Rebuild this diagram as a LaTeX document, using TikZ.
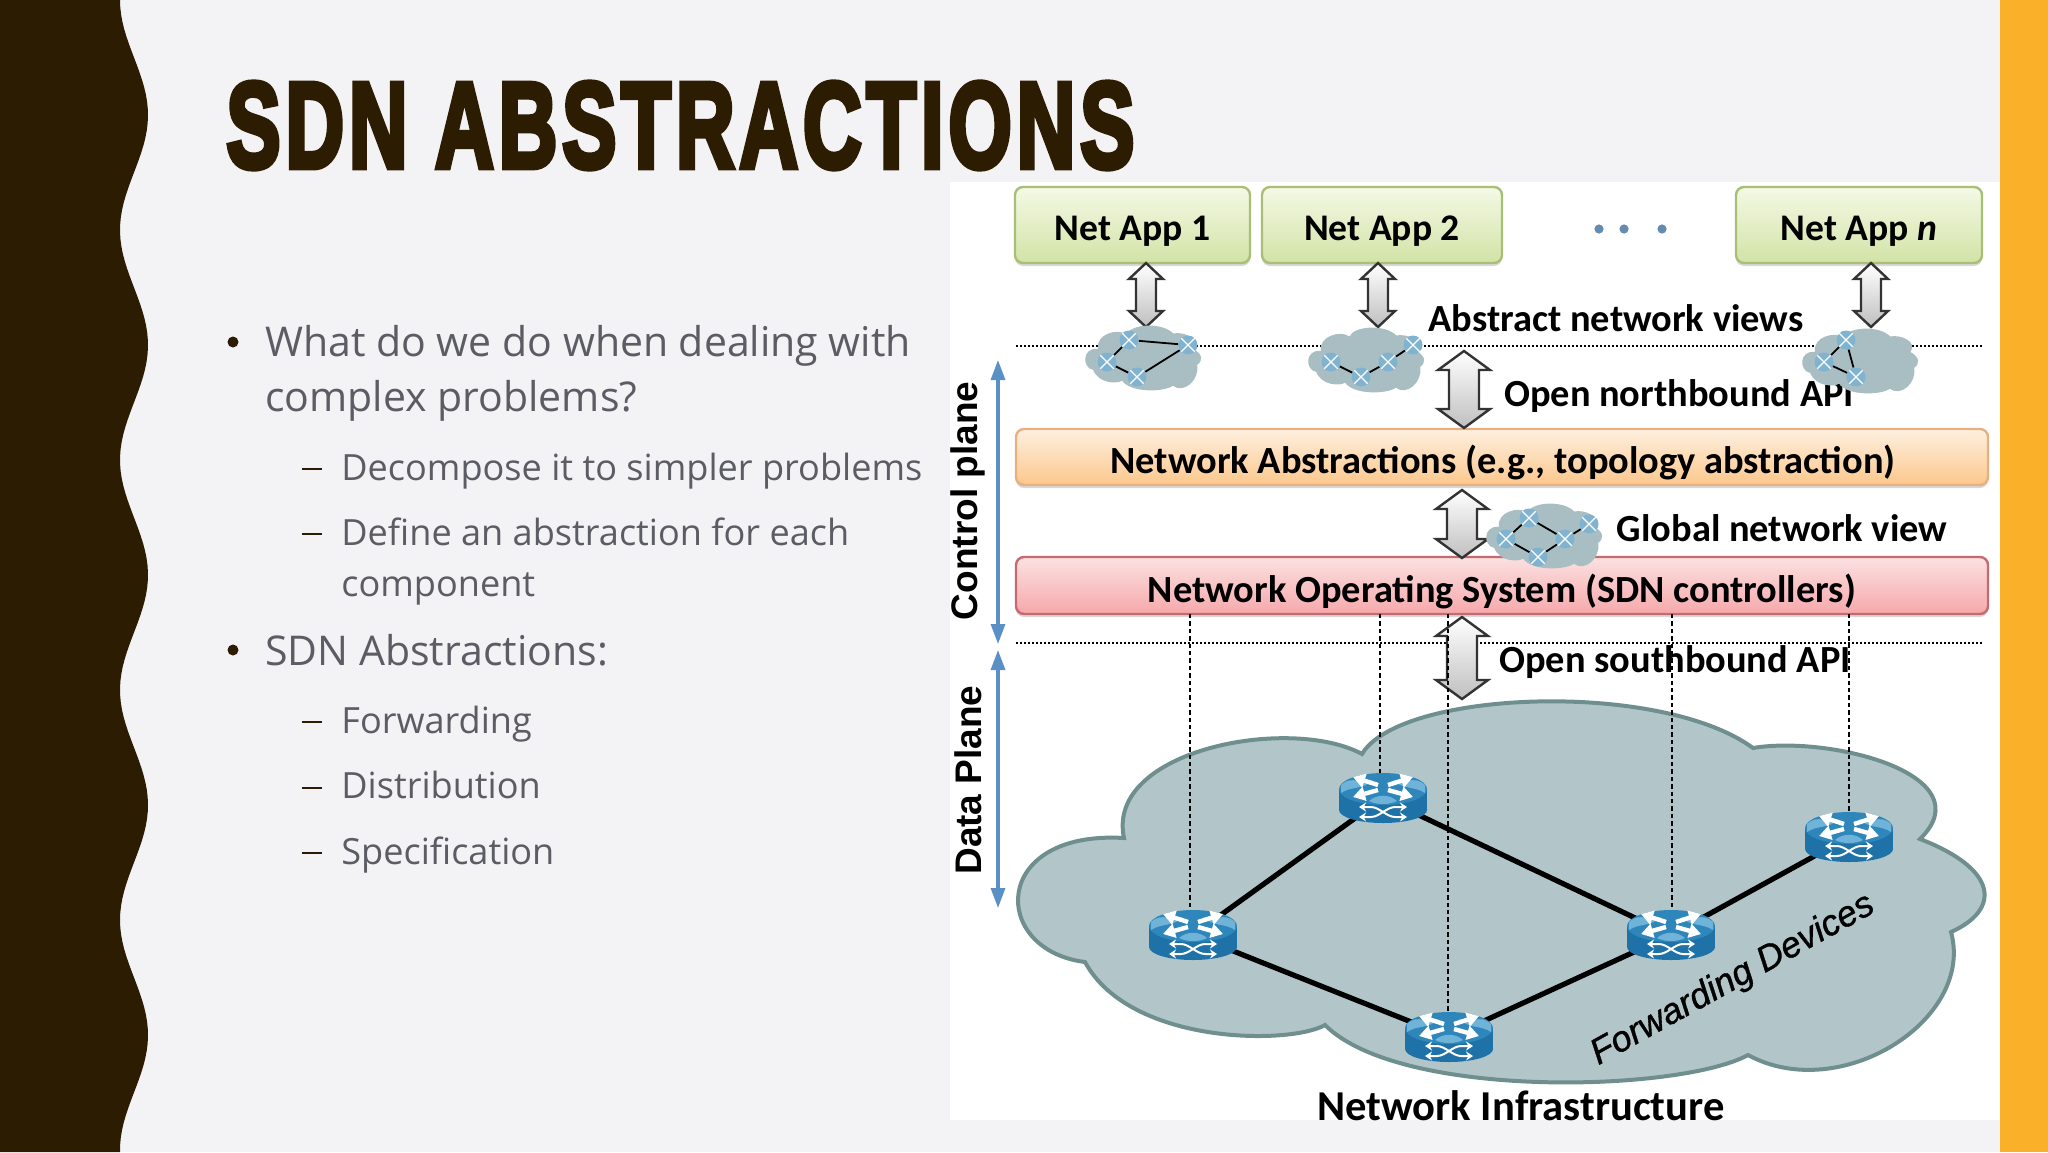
\documentclass[tikz,border=0pt]{standalone}
\usepackage{fontspec}
\usetikzlibrary{shapes.geometric,arrows.meta,shadows}
\setmainfont{Open Sans}
\newfontfamily\diagfont{Carlito}
\newfontfamily\armfont{Liberation Sans}
\newfontfamily\armital[FakeBold=1]{Liberation Sans Italic}
\newfontfamily\titlefont[FakeBold=5,LetterSpace=6]{Liberation Sans Bold}
\definecolor{pagebg}{HTML}{F3F2F5}
\definecolor{darkbrown}{HTML}{2C1C02}
\definecolor{accent}{HTML}{FBB02A}
\definecolor{bodygray}{HTML}{5C5C64}
\definecolor{cloudfill}{HTML}{B2C6C9}
\definecolor{cloudedge}{HTML}{6F8E8E}
\definecolor{smallcloud}{HTML}{A9BEC3}
\definecolor{planeblue}{HTML}{5B90C6}
\definecolor{routerblue}{HTML}{1F72A8}
\definecolor{routertop}{HTML}{2F86BB}
\definecolor{routerwave}{HTML}{6FB4D8}
\definecolor{routerpale}{HTML}{7FB3CF}
\definecolor{appedge}{HTML}{A9BF78}
\definecolor{apptop}{HTML}{F4F9E6}
\definecolor{appbot}{HTML}{D2E3A6}
\definecolor{absedge}{HTML}{E8B080}
\definecolor{abstop}{HTML}{FEF0DF}
\definecolor{absbot}{HTML}{FCC78D}
\definecolor{nosedge}{HTML}{C46A70}
\definecolor{nostop}{HTML}{FBE1E1}
\definecolor{nosbot}{HTML}{F6A8AB}
\tikzset{
  px/.style={x=0.5pt,y=-0.5pt},
  appbox/.style={draw=#1,line width=1.2pt,rounded corners=4pt,inner sep=0pt,outer sep=0pt,
    drop shadow={shadow xshift=0pt,shadow yshift=-1.5pt,opacity=.3}},
  apptext/.style={font=\diagfont\bfseries\fontsize{18.8}{20}\selectfont,text=black,inner sep=0pt},
  diagtext/.style={font=\diagfont\bfseries\fontsize{19.2}{21}\selectfont,text=black,inner sep=0pt},
  body1/.style={anchor=base west,inner sep=0pt,text=bodygray,font=\fontsize{20.5}{24}\selectfont},
  body2/.style={anchor=base west,inner sep=0pt,text=bodygray,font=\fontsize{18.05}{21}\selectfont},
  bulletdot/.style={circle,fill=darkbrown,minimum size=5.5pt,inner sep=0pt},
  subdash/.style={rectangle,fill=darkbrown,minimum width=10pt,minimum height=1pt,inner sep=0pt},
  dotline/.style={black,line width=1pt,dash pattern=on 1pt off 1pt},
  droplink/.style={black,line width=1.1pt,dash pattern=on 2.2pt off 1.5pt},
  biglink/.style={black,line width=2.6pt},
  minilink/.style={black,line width=.9pt},
  planearrow/.style={planeblue,line width=1.6pt,{Triangle[width=7pt,length=10pt]}-{Triangle[width=7pt,length=10pt]}},
  minirouter/.style={circle,fill=routerpale,minimum size=9.5pt,inner sep=0pt,
    path picture={\draw[white,line width=.6pt]
      (path picture bounding box.north west)--(path picture bounding box.south east)
      (path picture bounding box.north east)--(path picture bounding box.south west);}},
  plabel/.style={font=\armfont\bfseries\fontsize{18.5}{20}\selectfont,text=black,inner sep=0pt},
  bigwhite/.style={white,line width=2.2pt},
}
\newcommand{\lowered}[1]{\raisebox{-3.2pt}[\height][\depth]{#1}}
\def\cloudpath{(1362,754) .. controls (1400,690) and (1660,680) .. (1753,748)
  .. controls (1830,735) and (1985,775) .. (1920,839)
  .. controls (2000,870) and (2000,910) .. (1951,932)
  .. controls (1975,1020) and (1840,1105) .. (1748,1055)
  .. controls (1680,1092) and (1400,1100) .. (1325,1025)
  .. controls (1290,1045) and (1130,1045) .. (1085,962)
  .. controls (990,950) and (990,830) .. (1124,838)
  .. controls (1105,750) and (1290,715) .. (1362,754) -- cycle}
% name, centre x, centre y
\newcommand{\smallcloudat}[3]{%
  \coordinate (#1) at (#2,#3);
  \fill[smallcloud,shift={(#2,#3)},xscale=.12,yscale=.17,shift={(-1500,-892)}] \cloudpath;}
% name, x, y top, y bottom, half head, half shaft, head length
\newcommand{\dblarrow}[7]{%
  \coordinate (#1t) at (#2,#3);
  \coordinate (#1b) at (#2,#4);
  \draw[black!80,line width=1.2pt,top color=white,bottom color=black!25]
    (#2,#3) -- (#2+#5,#3+#7) -- (#2+#6,#3+#7) -- (#2+#6,#4-#7) -- (#2+#5,#4-#7)
    -- (#2,#4) -- (#2-#5,#4-#7) -- (#2-#6,#4-#7) -- (#2-#6,#3+#7) -- (#2-#5,#3+#7) -- cycle;}
\newcommand{\routerart}[1]{%
  \begin{scope}[shift={(#1)}]
    \fill[routerblue] (0,12) circle[x radius=44,y radius=13];
    \fill[routerblue] (-44,-9) rectangle (44,12);
    \fill[routertop] (0,-9) circle[x radius=44,y radius=16];
    \fill[routerwave] (-42,-13) .. controls (-30,-24) and (-22,-12) .. (-10,-18) .. controls (-20,-8) and (-32,-12) .. (-42,-5) -- cycle;
    \fill[routerwave] (42,-13) .. controls (30,-24) and (22,-12) .. (10,-18) .. controls (20,-8) and (32,-12) .. (42,-5) -- cycle;
    \fill[routerwave] (-14,3) .. controls (-6,-4) and (6,-4) .. (14,3) .. controls (6,7) and (-6,7) .. (-14,3) -- cycle;
    \draw[bigwhite,-{Triangle[width=7pt,length=6pt]}] (-5,-8) -- (-30,-1);
    \draw[bigwhite,-{Triangle[width=7pt,length=6pt]}] (5,-8) -- (30,-1);
    \draw[bigwhite,{Triangle[width=7pt,length=6pt]}-] (-30,-21) -- (-5,-13);
    \draw[bigwhite,{Triangle[width=7pt,length=6pt]}-] (30,-21) -- (5,-13);
    \draw[white,line width=1pt,{Stealth[width=4.5pt,length=3.5pt]}-{Stealth[width=4.5pt,length=3.5pt]}] (-24,9) -- (-12,9) .. controls (-4,9) and (4,19) .. (12,19) -- (24,19);
    \draw[white,line width=1pt,{Stealth[width=4.5pt,length=3.5pt]}-{Stealth[width=4.5pt,length=3.5pt]}] (-24,19) -- (-12,19) .. controls (-4,19) and (4,9) .. (12,9) -- (24,9);
  \end{scope}}
\begin{document}
\begin{tikzpicture}[px]
\useasboundingbox (0,0) rectangle (2048,1152);
\fill[pagebg] (0,0) rectangle (2048,1152);
\fill[accent] (2000,0) rectangle (2048,1152);
\fill[darkbrown] (0,0) -- plot[samples=160,domain=0:1152,variable=\t] ({134+14*cos((\t-115)*1.56522)},\t) -- (0,1152) -- cycle;
% title
\node[anchor=south west,inner sep=0pt,text=darkbrown] (title) at (226,169)
  {\resizebox{454pt}{42.5pt}{\titlefont SDN ABSTRACTIONS}};
% bullets
\node[bulletdot] (b1) at (233,342) {};
\node[body1] (t1) at (265,356) {What do we do when dealing with};
\node[body1] (t2) at (265,411) {complex problems?};
\node[subdash] (d1) at (312,469) {};
\node[body2] (t3) at (341,480) {Decompose it to simpler problems};
\node[subdash] (d2) at (312,534) {};
\node[body2] (t4) at (341,545) {Define an abstraction for each};
\node[body2] (t5) at (341,596) {component};
\node[bulletdot] (b2) at (233,650) {};
\node[body1] (t6) at (265,665) {SDN Abstractions:};
\node[subdash] (d3) at (312,722) {};
\node[body2] (t7) at (341,733) {Forwarding};
\node[subdash] (d4) at (312,788) {};
\node[body2] (t8) at (341,798) {Distribution};
\node[subdash] (d5) at (312,853) {};
\node[body2] (t9) at (341,864) {Specification};
% figure panel
\fill[white] (950,182) rectangle (2000,1120);
% plane arrows and labels
\coordinate (cpt) at (998,360); \coordinate (cpb) at (998,644);
\coordinate (dpt) at (998,650); \coordinate (dpb) at (998,908);
\draw[planearrow] (cpt) -- (cpb);
\draw[planearrow] (dpt) -- (dpb);
\node[plabel,rotate=90] (cplabel) at (968,501) {Control plane};
\node[plabel,rotate=90] (dplabel) at (968,780) {Data Plane};
% dotted levels
\coordinate (l1a) at (1016,346); \coordinate (l1b) at (1982,346);
\coordinate (l2a) at (1016,643); \coordinate (l2b) at (1982,643);
\draw[dotline] (l1a) -- (l1b);
\draw[dotline] (l2a) -- (l2b);
% infrastructure cloud
\draw[fill=cloudfill,draw=cloudedge,line width=2pt] \cloudpath;
% boxes
\node[appbox=appedge,top color=apptop,bottom color=appbot,minimum width=117.5pt,minimum height=38pt,apptext] (app1) at (1132.5,225) {\lowered{Net App 1}};
\node[appbox=appedge,top color=apptop,bottom color=appbot,minimum width=120pt,minimum height=38pt,apptext] (app2) at (1382,225) {\lowered{Net App 2}};
\node[appbox=appedge,top color=apptop,bottom color=appbot,minimum width=123pt,minimum height=38pt,apptext] (appn) at (1859,225) {\lowered{Net App \textit{n}}};
\fill[planeblue!70!gray] (1599,229) circle (2.3pt) (1624,229) circle (2.3pt) (1662,229) circle (2.3pt);
\node[appbox=absedge,top color=abstop,bottom color=absbot,minimum width=486pt,minimum height=28pt] (abs) at (1502,457) {};
\node[appbox=nosedge,top color=nostop,bottom color=nosbot,minimum width=486pt,minimum height=28.5pt] (nos) at (1502,585.5) {};
\node[diagtext] (abstext) at (1503,462) {Network Abstractions (e.g., topology abstraction)};
% texts
\node[diagtext] (views) at (1616,318) {Abstract network views};
\node[diagtext] (north) at (1679,396) {Open northbound API};
\node[diagtext] (south) at (1675,662) {Open southbound API};
\node[diagtext] (gview) at (1782,528) {Global network view};
\node[font=\diagfont\bfseries\fontsize{21.3}{23}\selectfont,text=black,inner sep=0pt] (infra) at (1521,1106) {Network Infrastructure};
% double arrows
\dblarrow{a1}{1146}{263}{327}{17}{10}{16}
\dblarrow{a2}{1378}{263}{327}{17}{10}{16}
\dblarrow{an}{1871}{263}{327}{17}{10}{16}
\dblarrow{an1}{1464}{351}{428}{26}{15}{19}
\dblarrow{an2}{1462}{490}{558}{26}{15}{19}
\dblarrow{an3}{1462}{617}{699}{26}{15}{19}
% small clouds
\smallcloudat{cl1}{1143}{358}
\smallcloudat{cl2}{1366}{360}
\smallcloudat{cln}{1860}{361}
\smallcloudat{clg}{1544}{536}
\node[minirouter] (p1) at (1129,340) {};
\node[minirouter] (p2) at (1188,345) {};
\node[minirouter] (p3) at (1107,362) {};
\node[minirouter] (p4) at (1137,377) {};
\draw[minilink] (p1) -- (p2) (p2) -- (p4) (p4) -- (p3) (p3) -- (p1);
\node[minirouter] (q1) at (1413,345) {};
\node[minirouter] (q2) at (1388,362) {};
\node[minirouter] (q3) at (1361,377) {};
\node[minirouter] (q4) at (1331,362) {};
\draw[minilink] (q1) -- (q2) (q2) -- (q3) (q3) -- (q4);
\node[minirouter] (s1) at (1846,340) {};
\node[minirouter] (s2) at (1824,362) {};
\node[minirouter] (s3) at (1856,377) {};
\draw[minilink] (s1) -- (s2) (s2) -- (s3) (s3) -- (s1);
\node[minirouter] (g1) at (1529,518) {};
\node[minirouter] (g2) at (1589,524) {};
\node[minirouter] (g3) at (1565,539) {};
\node[minirouter] (g4) at (1538,557) {};
\node[minirouter] (g5) at (1506,539) {};
\draw[minilink] (g1) -- (g5) (g5) -- (g4) (g4) -- (g3) (g3) -- (g1) (g3) -- (g2);
\node[diagtext] (nostext) at (1502,591) {Network Operating System (SDN controllers)};
% routers
\coordinate (r1) at (1193,935);
\coordinate (r2) at (1383,798);
\coordinate (r3) at (1671,935);
\coordinate (r4) at (1849,837);
\coordinate (r5) at (1449,1037);
\draw[biglink] (r1) -- (r2);
\draw[biglink] (r2) -- (r3);
\draw[biglink] (r3) -- (r4);
\draw[biglink] (r3) -- (r5);
\draw[biglink] (r5) -- (r1);
\coordinate (n1) at (1190,614);
\coordinate (n2) at (1380,614);
\coordinate (n3) at (1448,614);
\coordinate (n4) at (1672,614);
\coordinate (n5) at (1849,614);
\draw[droplink] (n1) -- (1190,915);
\draw[droplink] (n2) -- (1380,778);
\draw[droplink] (n3) -- (1448,1013);
\draw[droplink] (n4) -- (1672,915);
\draw[droplink] (n5) -- (1849,815);
\routerart{r1}
\routerart{r2}
\routerart{r3}
\routerart{r4}
\routerart{r5}
\node[font=\armital\fontsize{18}{20}\selectfont,rotate=29,inner sep=0pt] (fwd) at (1733,980) {Forwarding Devices};
\end{tikzpicture}
\end{document}
